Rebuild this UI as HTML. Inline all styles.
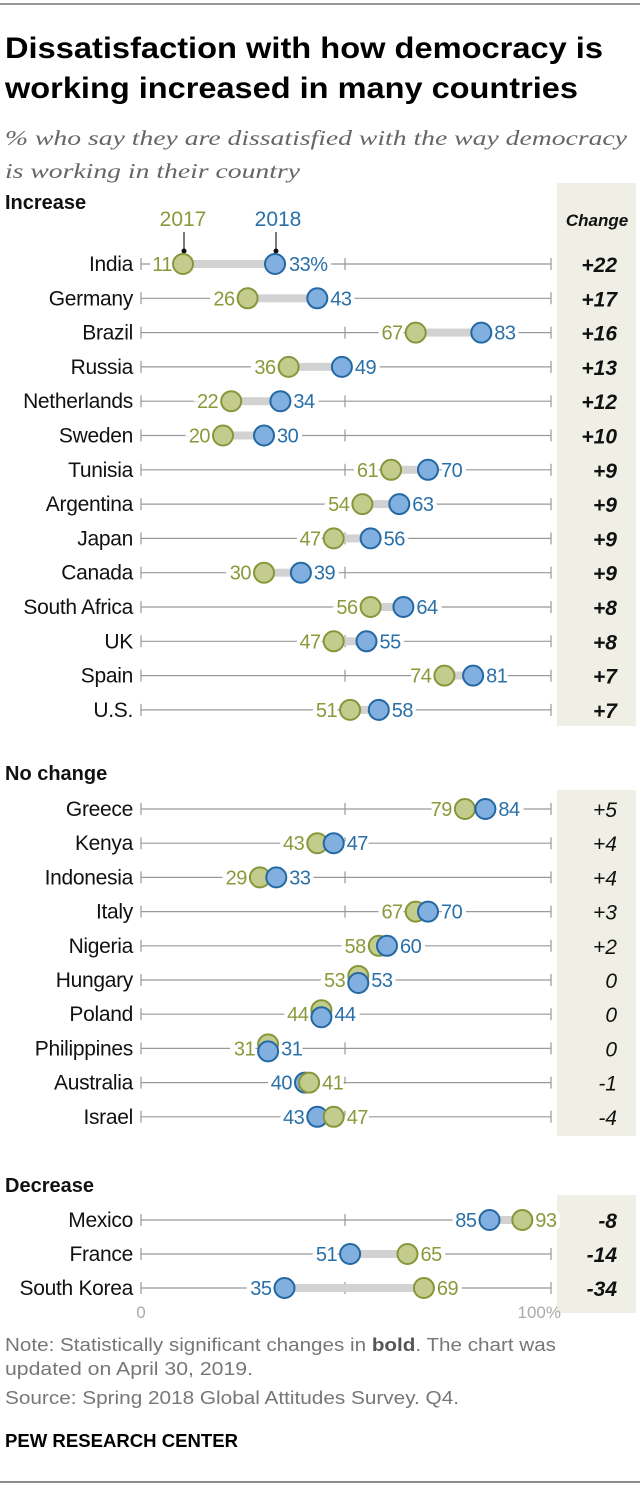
<!DOCTYPE html>
<html><head><meta charset="utf-8"><style>
html,body{margin:0;padding:0;background:#fff;}
svg{display:block;}
text{font-family:"Liberation Sans Narrow","Liberation Sans",sans-serif;}
.n{font-size:21px;fill:#111;text-anchor:end;letter-spacing:-0.3px;}
.g{font-size:20px;fill:#8a9a3b;stroke:#fff;stroke-width:8px;paint-order:stroke;letter-spacing:-0.5px;}
.b{font-size:20px;fill:#2a70a8;stroke:#fff;stroke-width:8px;paint-order:stroke;letter-spacing:-0.5px;}
.e{text-anchor:end;}
.ax{stroke:#999;stroke-width:1.2;fill:none;}
.bar{fill:#d2d2d2;}
.cg{fill:#c4cc8d;stroke:#86963a;stroke-width:2;}
.cb{fill:#80afe0;stroke:#2368a3;stroke-width:2;}
.cs{font-size:21px;fill:#111;text-anchor:end;font-weight:bold;font-style:italic;}
.cn{font-size:21px;fill:#111;text-anchor:end;font-style:italic;}
.h{font-size:20px;font-weight:bold;fill:#111;}
</style></head><body>
<svg width="640" height="1488" viewBox="0 0 640 1488" xmlns="http://www.w3.org/2000/svg">
<line x1="0" y1="4" x2="640" y2="4" stroke="#777" stroke-width="1.5"/>
<text x="5" y="58" font-size="30" font-weight="bold" fill="#000" textLength="598" lengthAdjust="spacingAndGlyphs">Dissatisfaction with how democracy is</text>
<text x="5" y="98" font-size="30" font-weight="bold" fill="#000" textLength="573" lengthAdjust="spacingAndGlyphs">working increased in many countries</text>
<text x="5" y="145" font-size="21" font-style="italic" fill="#666" style="font-family:'Liberation Serif',serif" textLength="622" lengthAdjust="spacingAndGlyphs">% who say they are dissatisfied with the way democracy</text>
<text x="5" y="178" font-size="21" font-style="italic" fill="#666" style="font-family:'Liberation Serif',serif" textLength="295" lengthAdjust="spacingAndGlyphs">is working in their country</text>

<rect x="557" y="183" width="79" height="543" fill="#efefe6"/>
<rect x="557" y="790" width="79" height="346" fill="#efefe6"/>
<rect x="557" y="1195" width="79" height="118" fill="#efefe6"/>

<text class="h" x="5" y="209">Increase</text>
<text class="h" x="5" y="780">No change</text>
<text class="h" x="5" y="1192">Decrease</text>
<text x="597" y="226" font-size="17" font-weight="bold" font-style="italic" fill="#111" text-anchor="middle">Change</text>
<text x="183" y="226" font-size="21" fill="#8a9a3b" text-anchor="middle">2017</text>
<text x="278" y="226" font-size="21" fill="#2a70a8" text-anchor="middle">2018</text>
<line x1="184" y1="232" x2="184" y2="251" stroke="#222" stroke-width="1.2"/><circle cx="184" cy="251" r="2.5" fill="#111"/>
<line x1="276" y1="232" x2="276" y2="251" stroke="#222" stroke-width="1.2"/><circle cx="276" cy="251" r="2.5" fill="#111"/>

<defs><path id="axis" d="M141 0H551M141 -6V6M345 -6V6M551 -6V6" class="ax"/></defs>

<!-- Increase -->
<g transform="translate(0,264)"><text class="n" x="133" y="7">India</text><use href="#axis"/><rect class="bar" x="186" y="-4" width="90" height="8"/><text class="g e" x="172" y="7">11</text><text class="b" x="289" y="7">33%</text><circle class="cg" cx="183" cy="0" r="10"/><circle class="cb" cx="275" cy="0" r="10"/><text class="cs" x="617" y="8">+22</text></g>
<g transform="translate(0,298.3)"><text class="n" x="133" y="7">Germany</text><use href="#axis"/><rect class="bar" x="247.6" y="-4" width="69.7" height="8"/><text class="g e" x="234.6" y="7">26</text><text class="b" x="330.3" y="7">43</text><circle class="cg" cx="247.6" cy="0" r="10"/><circle class="cb" cx="317.3" cy="0" r="10"/><text class="cs" x="617" y="8">+17</text></g>
<g transform="translate(0,332.6)"><text class="n" x="133" y="7">Brazil</text><use href="#axis"/><rect class="bar" x="415.7" y="-4" width="65.6" height="8"/><text class="g e" x="402.7" y="7">67</text><text class="b" x="494.3" y="7">83</text><circle class="cg" cx="415.7" cy="0" r="10"/><circle class="cb" cx="481.3" cy="0" r="10"/><text class="cs" x="617" y="8">+16</text></g>
<g transform="translate(0,366.9)"><text class="n" x="133" y="7">Russia</text><use href="#axis"/><rect class="bar" x="288.6" y="-4" width="53.3" height="8"/><text class="g e" x="275.6" y="7">36</text><text class="b" x="354.9" y="7">49</text><circle class="cg" cx="288.6" cy="0" r="10"/><circle class="cb" cx="341.9" cy="0" r="10"/><text class="cs" x="617" y="8">+13</text></g>
<g transform="translate(0,401.2)"><text class="n" x="133" y="7">Netherlands</text><use href="#axis"/><rect class="bar" x="231.2" y="-4" width="49.2" height="8"/><text class="g e" x="218.2" y="7">22</text><text class="b" x="293.4" y="7">34</text><circle class="cg" cx="231.2" cy="0" r="10"/><circle class="cb" cx="280.4" cy="0" r="10"/><text class="cs" x="617" y="8">+12</text></g>
<g transform="translate(0,435.5)"><text class="n" x="133" y="7">Sweden</text><use href="#axis"/><rect class="bar" x="223" y="-4" width="41" height="8"/><text class="g e" x="210" y="7">20</text><text class="b" x="277" y="7">30</text><circle class="cg" cx="223" cy="0" r="10"/><circle class="cb" cx="264" cy="0" r="10"/><text class="cs" x="617" y="8">+10</text></g>
<g transform="translate(0,469.8)"><text class="n" x="133" y="7">Tunisia</text><use href="#axis"/><rect class="bar" x="391.1" y="-4" width="36.9" height="8"/><text class="g e" x="378.1" y="7">61</text><text class="b" x="441" y="7">70</text><circle class="cg" cx="391.1" cy="0" r="10"/><circle class="cb" cx="428" cy="0" r="10"/><text class="cs" x="617" y="8">+9</text></g>
<g transform="translate(0,504.1)"><text class="n" x="133" y="7">Argentina</text><use href="#axis"/><rect class="bar" x="362.4" y="-4" width="36.9" height="8"/><text class="g e" x="349.4" y="7">54</text><text class="b" x="412.3" y="7">63</text><circle class="cg" cx="362.4" cy="0" r="10"/><circle class="cb" cx="399.3" cy="0" r="10"/><text class="cs" x="617" y="8">+9</text></g>
<g transform="translate(0,538.4)"><text class="n" x="133" y="7">Japan</text><use href="#axis"/><rect class="bar" x="333.7" y="-4" width="36.9" height="8"/><text class="g e" x="320.7" y="7">47</text><text class="b" x="383.6" y="7">56</text><circle class="cg" cx="333.7" cy="0" r="10"/><circle class="cb" cx="370.6" cy="0" r="10"/><text class="cs" x="617" y="8">+9</text></g>
<g transform="translate(0,572.7)"><text class="n" x="133" y="7">Canada</text><use href="#axis"/><rect class="bar" x="264" y="-4" width="36.9" height="8"/><text class="g e" x="251" y="7">30</text><text class="b" x="313.9" y="7">39</text><circle class="cg" cx="264" cy="0" r="10"/><circle class="cb" cx="300.9" cy="0" r="10"/><text class="cs" x="617" y="8">+9</text></g>
<g transform="translate(0,607)"><text class="n" x="133" y="7">South Africa</text><use href="#axis"/><rect class="bar" x="370.6" y="-4" width="32.8" height="8"/><text class="g e" x="357.6" y="7">56</text><text class="b" x="416.4" y="7">64</text><circle class="cg" cx="370.6" cy="0" r="10"/><circle class="cb" cx="403.4" cy="0" r="10"/><text class="cs" x="617" y="8">+8</text></g>
<g transform="translate(0,641.3)"><text class="n" x="133" y="7">UK</text><use href="#axis"/><rect class="bar" x="333.7" y="-4" width="32.8" height="8"/><text class="g e" x="320.7" y="7">47</text><text class="b" x="379.5" y="7">55</text><circle class="cg" cx="333.7" cy="0" r="10"/><circle class="cb" cx="366.5" cy="0" r="10"/><text class="cs" x="617" y="8">+8</text></g>
<g transform="translate(0,675.6)"><text class="n" x="133" y="7">Spain</text><use href="#axis"/><rect class="bar" x="444.4" y="-4" width="28.7" height="8"/><text class="g e" x="431.4" y="7">74</text><text class="b" x="486.1" y="7">81</text><circle class="cg" cx="444.4" cy="0" r="10"/><circle class="cb" cx="473.1" cy="0" r="10"/><text class="cs" x="617" y="8">+7</text></g>
<g transform="translate(0,709.9)"><text class="n" x="133" y="7">U.S.</text><use href="#axis"/><rect class="bar" x="350.1" y="-4" width="28.7" height="8"/><text class="g e" x="337.1" y="7">51</text><text class="b" x="391.8" y="7">58</text><circle class="cg" cx="350.1" cy="0" r="10"/><circle class="cb" cx="378.8" cy="0" r="10"/><text class="cs" x="617" y="8">+7</text></g>

<!-- No change -->
<g transform="translate(0,809)"><text class="n" x="133" y="7">Greece</text><use href="#axis"/><rect class="bar" x="464.9" y="-4" width="20.5" height="8"/><text class="g e" x="451.9" y="7">79</text><text class="b" x="498.4" y="7">84</text><circle class="cg" cx="464.9" cy="0" r="10"/><circle class="cb" cx="485.4" cy="0" r="10"/><text class="cn" x="617" y="8">+5</text></g>
<g transform="translate(0,843.2)"><text class="n" x="133" y="7">Kenya</text><use href="#axis"/><text class="g e" x="304.3" y="7">43</text><text class="b" x="346.7" y="7">47</text><circle class="cg" cx="317.3" cy="0" r="10"/><circle class="cb" cx="333.7" cy="0" r="10"/><text class="cn" x="617" y="8">+4</text></g>
<g transform="translate(0,877.4)"><text class="n" x="133" y="7">Indonesia</text><use href="#axis"/><text class="g e" x="246.9" y="7">29</text><text class="b" x="289.3" y="7">33</text><circle class="cg" cx="259.9" cy="0" r="10"/><circle class="cb" cx="276.3" cy="0" r="10"/><text class="cn" x="617" y="8">+4</text></g>
<g transform="translate(0,911.6)"><text class="n" x="133" y="7">Italy</text><use href="#axis"/><text class="g e" x="402.7" y="7">67</text><text class="b" x="441" y="7">70</text><circle class="cg" cx="415.7" cy="0" r="10"/><circle class="cb" cx="428" cy="0" r="10"/><text class="cn" x="617" y="8">+3</text></g>
<g transform="translate(0,945.8)"><text class="n" x="133" y="7">Nigeria</text><use href="#axis"/><text class="g e" x="365.8" y="7">58</text><text class="b" x="400" y="7">60</text><circle class="cg" cx="378.8" cy="0" r="10"/><circle class="cb" cx="387" cy="0" r="10"/><text class="cn" x="617" y="8">+2</text></g>
<g transform="translate(0,980)"><text class="n" x="133" y="7">Hungary</text><use href="#axis"/><text class="g e" x="345.3" y="7">53</text><text class="b" x="371.3" y="7">53</text><circle class="cg" cx="358.3" cy="-4" r="10"/><circle class="cb" cx="358.3" cy="3" r="10"/><text class="cn" x="617" y="8">0</text></g>
<g transform="translate(0,1014.2)"><text class="n" x="133" y="7">Poland</text><use href="#axis"/><text class="g e" x="308.4" y="7">44</text><text class="b" x="334.4" y="7">44</text><circle class="cg" cx="321.4" cy="-4" r="10"/><circle class="cb" cx="321.4" cy="3" r="10"/><text class="cn" x="617" y="8">0</text></g>
<g transform="translate(0,1048.4)"><text class="n" x="133" y="7">Philippines</text><use href="#axis"/><text class="g e" x="255.1" y="7">31</text><text class="b" x="281.1" y="7">31</text><circle class="cg" cx="268.1" cy="-4" r="10"/><circle class="cb" cx="268.1" cy="3" r="10"/><text class="cn" x="617" y="8">0</text></g>
<g transform="translate(0,1082.6)"><text class="n" x="133" y="7">Australia</text><use href="#axis"/><text class="b e" x="292" y="7">40</text><text class="g" x="322.1" y="7">41</text><circle class="cb" cx="305" cy="0" r="10"/><circle class="cg" cx="309.1" cy="0" r="10"/><text class="cn" x="617" y="8">-1</text></g>
<g transform="translate(0,1116.8)"><text class="n" x="133" y="7">Israel</text><use href="#axis"/><text class="b e" x="304.3" y="7">43</text><text class="g" x="346.7" y="7">47</text><circle class="cb" cx="317.3" cy="0" r="10"/><circle class="cg" cx="333.7" cy="0" r="10"/><text class="cn" x="617" y="8">-4</text></g>

<!-- Decrease -->
<g transform="translate(0,1220)"><text class="n" x="133" y="7">Mexico</text><use href="#axis"/><rect class="bar" x="489.5" y="-4" width="32.8" height="8"/><text class="b e" x="476.5" y="7">85</text><text class="g" x="535.3" y="7">93</text><circle class="cb" cx="489.5" cy="0" r="10"/><circle class="cg" cx="522.3" cy="0" r="10"/><text class="cs" x="617" y="8">-8</text></g>
<g transform="translate(0,1254)"><text class="n" x="133" y="7">France</text><use href="#axis"/><rect class="bar" x="350.1" y="-4" width="57.4" height="8"/><text class="b e" x="337.1" y="7">51</text><text class="g" x="420.5" y="7">65</text><circle class="cb" cx="350.1" cy="0" r="10"/><circle class="cg" cx="407.5" cy="0" r="10"/><text class="cs" x="617" y="8">-14</text></g>
<g transform="translate(0,1288)"><text class="n" x="133" y="7">South Korea</text><use href="#axis"/><rect class="bar" x="284.5" y="-4" width="139.4" height="8"/><text class="b e" x="271.5" y="7">35</text><text class="g" x="436.9" y="7">69</text><circle class="cb" cx="284.5" cy="0" r="10"/><circle class="cg" cx="423.9" cy="0" r="10"/><text class="cs" x="617" y="8">-34</text></g>

<text x="141" y="1318" font-size="17" fill="#aaa" text-anchor="middle">0</text>
<text x="561" y="1318" font-size="17" fill="#aaa" text-anchor="end">100%</text>

<text x="5" y="1351" font-size="18" fill="#777" textLength="551" lengthAdjust="spacingAndGlyphs">Note: Statistically significant changes in <tspan font-weight="bold" fill="#555">bold</tspan>. The chart was</text>
<text x="5" y="1375" font-size="18" fill="#777" textLength="248" lengthAdjust="spacingAndGlyphs">updated on April 30, 2019.</text>
<text x="5" y="1404" font-size="18" fill="#777" textLength="454" lengthAdjust="spacingAndGlyphs">Source: Spring 2018 Global Attitudes Survey. Q4.</text>
<text x="5" y="1447" font-size="18" font-weight="bold" fill="#000" textLength="233" lengthAdjust="spacingAndGlyphs">PEW RESEARCH CENTER</text>
<line x1="0" y1="1482" x2="640" y2="1482" stroke="#666" stroke-width="1.5"/>
</svg>
</body></html>
